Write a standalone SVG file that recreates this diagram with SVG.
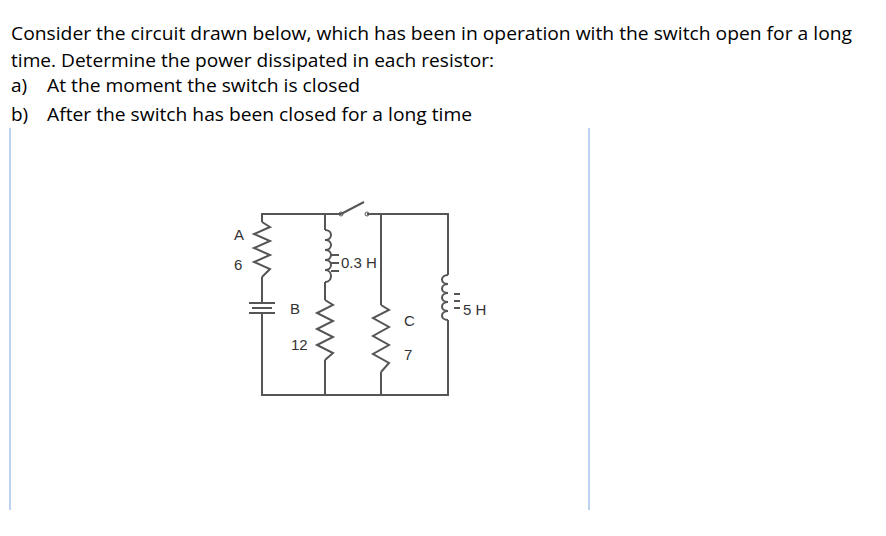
<svg xmlns="http://www.w3.org/2000/svg" width="886" height="536" viewBox="0 0 886 536">
<style>
.t{font-family:"Open Sans","Liberation Sans",sans-serif;font-size:19px;fill:#000}
.w{fill:none;stroke:#555;stroke-width:2}
.l{font-family:"Liberation Sans",sans-serif;font-size:15px;fill:#333}
</style>
<rect width="886" height="536" fill="#fff"/>
<g id="question">
<text class="t" x="11" y="40" textLength="841" lengthAdjust="spacingAndGlyphs">Consider the circuit drawn below, which has been in operation with the switch open for a long</text>
<text class="t" x="11" y="67" textLength="483" lengthAdjust="spacingAndGlyphs">time. Determine the power dissipated in each resistor:</text>
<text class="t" x="11" y="92">a)</text><text class="t" x="47" y="92" textLength="313" lengthAdjust="spacingAndGlyphs">At the moment the switch is closed</text>
<text class="t" x="11" y="121">b)</text><text class="t" x="47" y="121" textLength="425" lengthAdjust="spacingAndGlyphs">After the switch has been closed for a long time</text>
</g>
<g id="frame" stroke="#a9c4ea" stroke-width="1.5">
<line x1="10" y1="128" x2="10" y2="510"/>
<line x1="589" y1="128" x2="589" y2="510"/>
</g>
<g id="connectors" class="w">
<polyline points="262,222 262,214 341,214"/>
<polyline points="367,214 448,214 448,275"/>
<line x1="341" y1="214" x2="364" y2="202"/>
<polyline points="262,322 262,395 448,395 448,320"/>
<line x1="325" y1="214" x2="325" y2="230"/>
<line x1="325" y1="282" x2="325" y2="300"/>
<line x1="325" y1="360" x2="325" y2="395"/>
<line x1="381" y1="214" x2="381" y2="305"/>
<line x1="381" y1="372" x2="381" y2="395"/>
<line x1="262" y1="277" x2="262" y2="303"/>
</g>
<circle cx="341" cy="214" r="2" fill="none" stroke="#555"/>
<circle cx="367" cy="214" r="2" fill="none" stroke="#555"/>
<g id="RA">
<polyline class="w" points="262,222 270,227 254,234 270,241 254,248 270,255 254,262 270,269 262,277"/>
<text class="l" x="234" y="240">A</text><text class="l" x="234" y="270">6</text>
</g>
<g id="battery" stroke="#555" stroke-width="2">
<line x1="249" y1="303" x2="275" y2="303"/><line x1="252" y1="308" x2="272" y2="308"/><line x1="249" y1="313" x2="275" y2="313"/>
<line x1="262" y1="313" x2="262" y2="322"/>
</g>
<g id="L1">
<path class="w" d="M325,230 c8,0 8,10 0,10 c8,0 8,10 0,10 c8,0 8,10 0,10 c8,0 8,10 0,10 c8,0 8,12 0,12"/>
<g stroke="#555" stroke-width="2"><line x1="331" y1="255" x2="339" y2="255"/><line x1="331" y1="263" x2="339" y2="263"/><line x1="331" y1="271" x2="339" y2="271"/></g>
<text class="l" x="341" y="268" font-size="12">0.3 H</text>
</g>
<g id="RB">
<polyline class="w" points="325,300 333,305 317,313 333,321 317,329 333,337 317,345 333,353 325,360"/>
<text class="l" x="290" y="314">B</text><text class="l" x="291" y="350">12</text>
</g>
<g id="RC">
<polyline class="w" points="381,305 389,310 373,318 389,327 373,336 389,345 373,354 389,363 381,372"/>
<text class="l" x="404" y="326">C</text><text class="l" x="404" y="360">7</text>
</g>
<g id="L2">
<path class="w" d="M448,275 c-8,0 -8,9 0,9 c-8,0 -8,9 0,9 c-8,0 -8,9 0,9 c-8,0 -8,9 0,9 c-8,0 -8,9 0,9"/>
<g stroke="#555" stroke-width="2"><line x1="454" y1="294" x2="460" y2="294"/><line x1="454" y1="301" x2="460" y2="301"/><line x1="454" y1="308" x2="460" y2="308"/></g>
<text class="l" x="463" y="315" font-size="14">5 H</text>
</g>
</svg>
